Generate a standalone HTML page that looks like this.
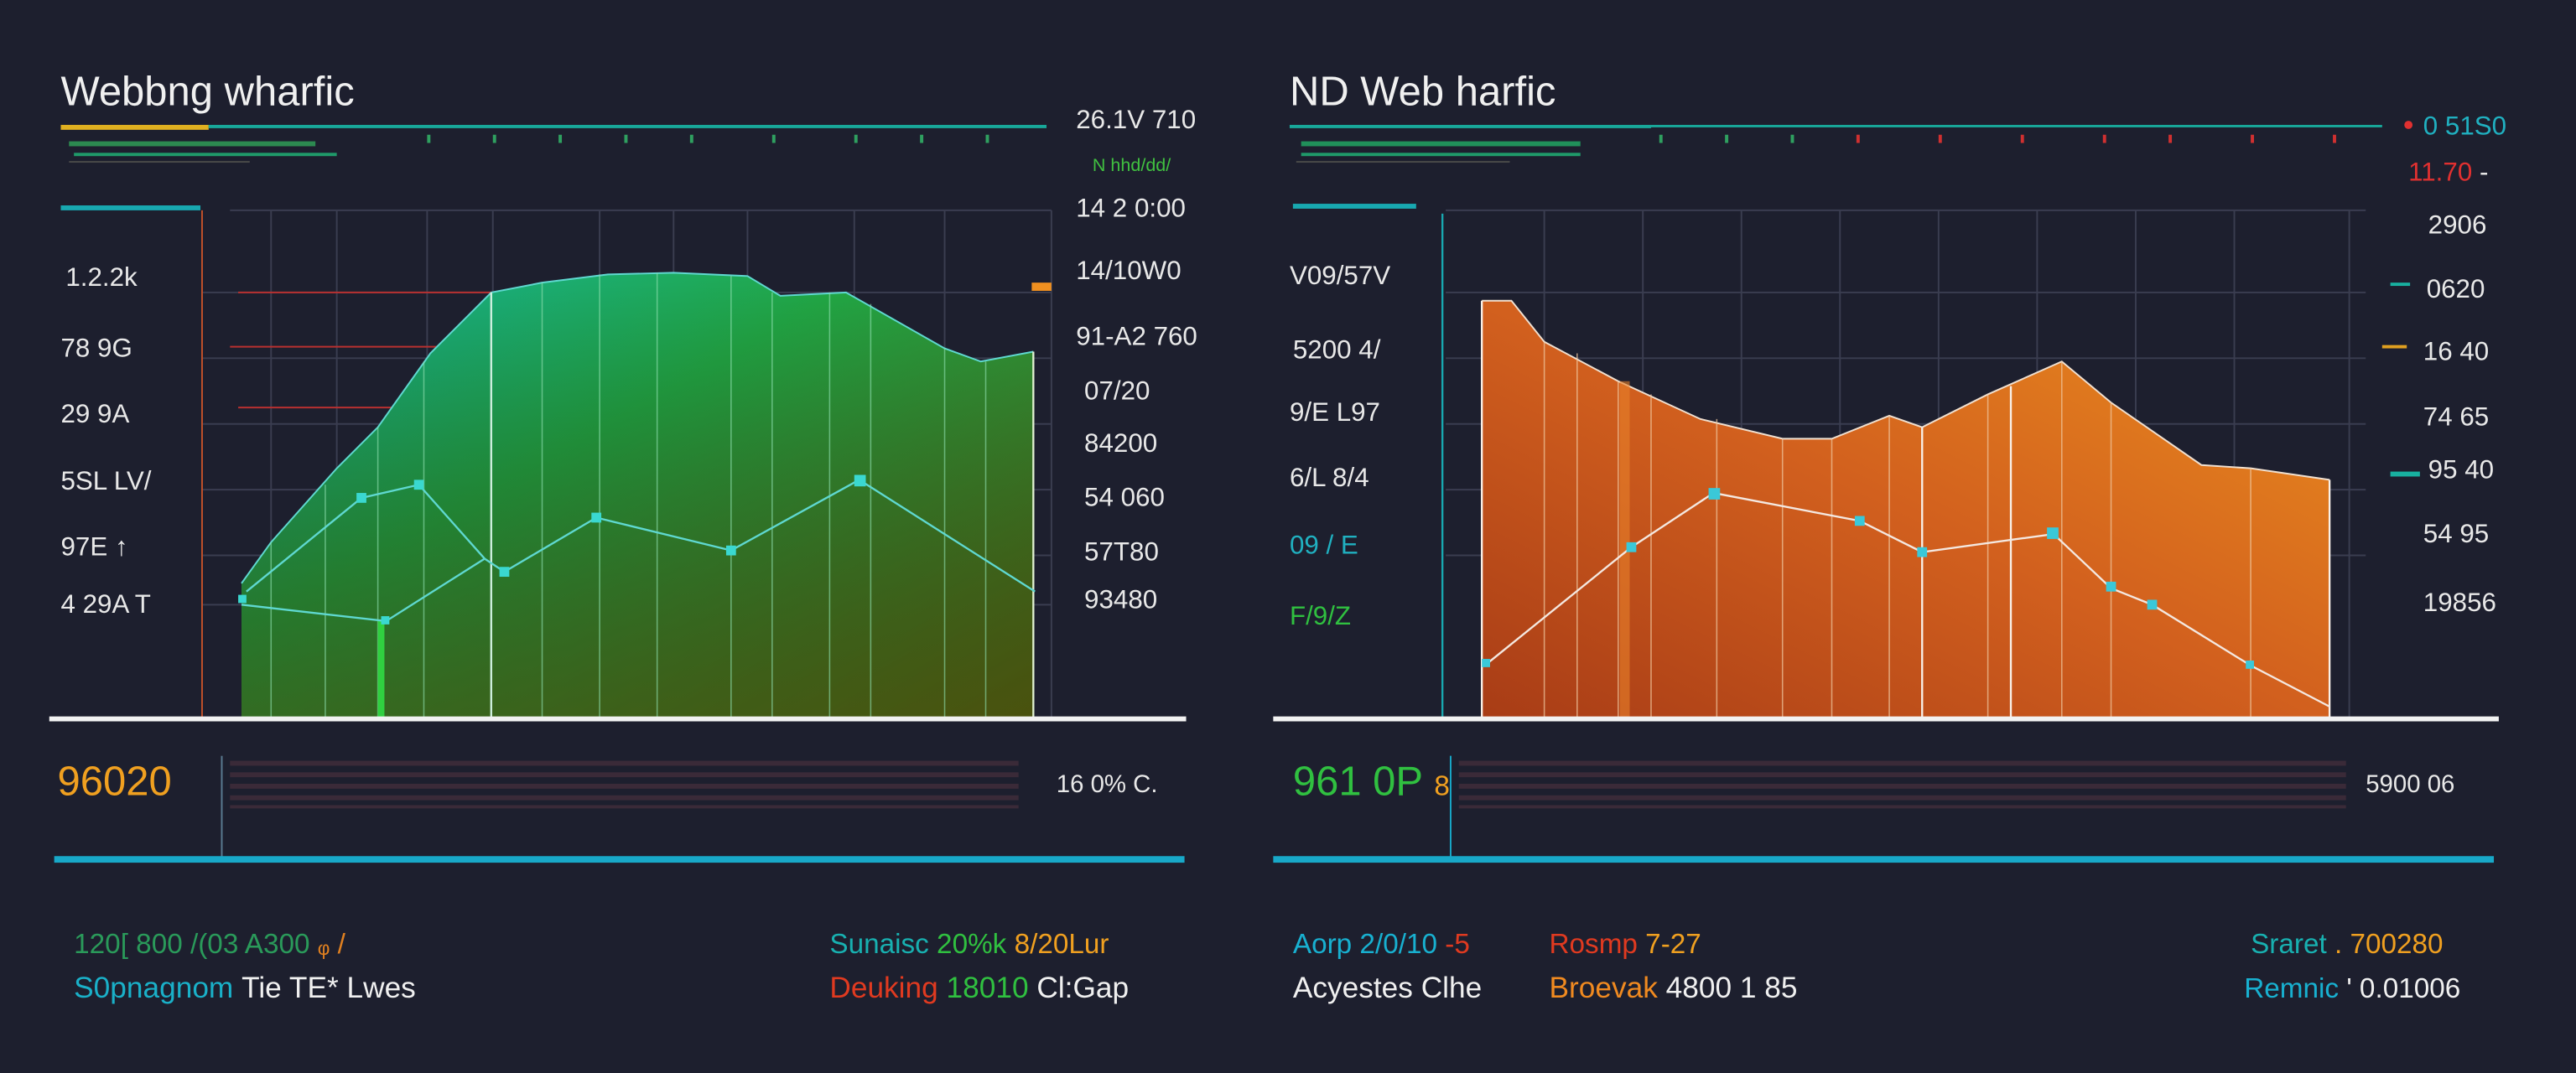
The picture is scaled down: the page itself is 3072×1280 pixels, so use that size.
<!DOCTYPE html>
<html><head><meta charset="utf-8"><style>
html,body{margin:0;padding:0;background:#1d1f2e;}
svg{display:block}
text{font-family:"Liberation Sans",sans-serif;}
</style></head><body>
<svg width="3072" height="1280" viewBox="0 0 1568 653" preserveAspectRatio="none" xmlns="http://www.w3.org/2000/svg">
<defs>
<linearGradient id="gL" x1="0" y1="0" x2="1" y2="1">
<stop offset="0" stop-color="#14b3a0"/><stop offset="0.4" stop-color="#22a845"/><stop offset="1" stop-color="#5a6a14"/>
</linearGradient>
<linearGradient id="gLv" x1="0" y1="0" x2="0" y2="1">
<stop offset="0" stop-color="#000" stop-opacity="0"/><stop offset="1" stop-color="#3a3a08" stop-opacity="0.5"/>
</linearGradient>
<linearGradient id="gR" x1="1" y1="0" x2="0" y2="1">
<stop offset="0" stop-color="#eb8f1e"/><stop offset="0.5" stop-color="#d2601e"/><stop offset="1" stop-color="#a83c16"/>
</linearGradient>
</defs>
<rect width="1568" height="653" fill="#1d1f2e"/>

<!-- LEFT PANEL -->
<text x="37" y="64" font-size="25" fill="#f0f0f0">Webbng wharfic</text>
<rect x="37" y="76" width="90" height="3" fill="#e0b020"/>
<rect x="127" y="76" width="510" height="2" fill="#18a89a"/>
<rect x="42" y="86" width="150" height="3" fill="#2c8a50"/>
<rect x="45" y="93" width="160" height="2" fill="#1f9a6a"/>
<rect x="42" y="98" width="110" height="1" fill="#4a4a4a"/>
<rect x="37" y="125" width="85" height="3" fill="#18a8b0"/>
<g fill="#2fa060"><rect x="260" y="82" width="2" height="5"/><rect x="300" y="82" width="2" height="5"/><rect x="340" y="82" width="2" height="5"/><rect x="380" y="82" width="2" height="5"/><rect x="420" y="82" width="2" height="5"/><rect x="470" y="82" width="2" height="5"/><rect x="520" y="82" width="2" height="5"/><rect x="560" y="82" width="2" height="5"/><rect x="600" y="82" width="2" height="5"/></g>
<g stroke="#3a3d50" stroke-width="1">
<line x1="140" y1="128" x2="640" y2="128"/>
<line x1="123" y1="178" x2="640" y2="178"/>
<line x1="123" y1="218" x2="640" y2="218"/>
<line x1="123" y1="258" x2="640" y2="258"/>
<line x1="123" y1="298" x2="640" y2="298"/>
<line x1="123" y1="338" x2="640" y2="338"/>
<line x1="123" y1="368" x2="640" y2="368"/>
<line x1="165" y1="128" x2="165" y2="437"/><line x1="205" y1="128" x2="205" y2="437"/><line x1="260" y1="128" x2="260" y2="437"/><line x1="300" y1="128" x2="300" y2="437"/><line x1="365" y1="128" x2="365" y2="437"/><line x1="410" y1="128" x2="410" y2="437"/><line x1="455" y1="128" x2="455" y2="437"/><line x1="520" y1="128" x2="520" y2="437"/><line x1="575" y1="128" x2="575" y2="437"/><line x1="640" y1="128" x2="640" y2="437"/>
</g>
<line x1="123" y1="128" x2="123" y2="437" stroke="#c0502a" stroke-width="1"/>
<g stroke="#b83030" stroke-width="1"><line x1="145" y1="178" x2="330" y2="178"/><line x1="140" y1="211" x2="270" y2="211"/><line x1="145" y1="248" x2="250" y2="248"/></g>
<path d="M147,355 L165,330 L205,285 L230,260 L262,215 L299,178 L330,172 L370,167 L410,166 L455,168 L475,180 L515,178 L575,212 L597,220 L629,214 L629,437 L147,437 Z" fill="url(#gL)"/>
<path d="M147,355 L165,330 L205,285 L230,260 L262,215 L299,178 L330,172 L370,167 L410,166 L455,168 L475,180 L515,178 L575,212 L597,220 L629,214 L629,437 L147,437 Z" fill="url(#gLv)"/>
<path d="M147,355 L165,330 L205,285 L230,260 L262,215 L299,178 L330,172 L370,167 L410,166 L455,168 L475,180 L515,178 L575,212 L597,220 L629,214" fill="none" stroke="#5fd8d0" stroke-width="1"/>
<g stroke="#8fe0b0" stroke-width="0.8" opacity="0.6"><line x1="165" y1="330" x2="165" y2="437"/><line x1="198" y1="295" x2="198" y2="437"/><line x1="230" y1="260" x2="230" y2="437"/><line x1="258" y1="220" x2="258" y2="437"/><line x1="330" y1="172" x2="330" y2="437"/><line x1="365" y1="167" x2="365" y2="437"/><line x1="400" y1="166" x2="400" y2="437"/><line x1="445" y1="168" x2="445" y2="437"/><line x1="470" y1="178" x2="470" y2="437"/><line x1="505" y1="178" x2="505" y2="437"/><line x1="530" y1="185" x2="530" y2="437"/><line x1="575" y1="212" x2="575" y2="437"/><line x1="600" y1="220" x2="600" y2="437"/></g>
<line x1="299" y1="178" x2="299" y2="437" stroke="#d0f0e0" stroke-width="1.2"/>
<line x1="629" y1="214" x2="629" y2="437" stroke="#e0f0d0" stroke-width="1.2"/>
<rect x="230" y="378" width="4" height="59" fill="#30d040"/>
<polyline points="150,360 220,303 255,295 295,340 307,348 363,315 445,335 523,292 630,360" fill="none" stroke="#5fd8d0" stroke-width="1.2"/>
<polyline points="147,368 235,378 295,340" fill="none" stroke="#5fd8d0" stroke-width="1.2"/>
<g fill="#3ad8d0"><rect x="217" y="300" width="6" height="6"/><rect x="252" y="292" width="6" height="6"/><rect x="304" y="345" width="6" height="6"/><rect x="360" y="312" width="6" height="6"/><rect x="442" y="332" width="6" height="6"/><rect x="520" y="289" width="7" height="7"/><rect x="145" y="362" width="5" height="5"/><rect x="232" y="375" width="5" height="5"/></g>
<rect x="628" y="172" width="12" height="5" fill="#f09020"/>
<rect x="30" y="436" width="692" height="3" fill="#f2f2f2"/>
<g font-size="16" fill="#e8e8e8">
<text x="655" y="78">26.1V 710</text>
<text x="665" y="104" font-size="11" fill="#40c040">N hhd/dd/</text>
<text x="655" y="132">14 2 0:00</text>
<text x="655" y="170">14/10W0</text>
<text x="655" y="210">91-A2 760</text>
<text x="660" y="243">07/20</text>
<text x="660" y="275">84200</text>
<text x="660" y="308">54 060</text>
<text x="660" y="341">57T80</text>
<text x="660" y="370">93480</text>
<text x="40" y="174">1.2.2k</text>
<text x="37" y="217">78 9G</text>
<text x="37" y="257">29 9A</text>
<text x="37" y="298">5SL LV/</text>
<text x="37" y="338">97E ↑</text>
<text x="37" y="373">4 29A T</text>
</g>
<text x="35" y="484" font-size="25" fill="#f0a020">96020</text>
<g fill="#3a2a38"><rect x="140" y="463" width="480" height="3"/><rect x="140" y="470" width="480" height="3"/><rect x="140" y="477" width="480" height="3"/><rect x="140" y="484" width="480" height="3"/><rect x="140" y="490" width="480" height="2"/></g>
<line x1="135" y1="460" x2="135" y2="523" stroke="#5a7a90" stroke-width="1"/>
<text x="643" y="482" font-size="15" fill="#e8e8e8">16 0% C.</text>
<rect x="33" y="521" width="688" height="4" fill="#18a8c8"/>
<text x="45" y="580" font-size="17" fill="#2a9a5a">120[ 800 /(03 A300 <tspan fill="#e08020">ᵩ /</tspan></text>
<text x="45" y="607" font-size="18" fill="#1ab0c8">S0pnagnom <tspan fill="#f0f0f0">Tie TE* Lwes</tspan></text>
<text x="505" y="580" font-size="17" fill="#18b0b0">Sunaisc <tspan fill="#30c040">20%k</tspan> <tspan fill="#f0a020">8/20Lur</tspan></text>
<text x="505" y="607" font-size="18" fill="#e03a20">Deuking <tspan fill="#30c040">18010</tspan> <tspan fill="#f0f0f0">Cl:Gap</tspan></text>

<!-- RIGHT PANEL -->
<text x="785" y="64" font-size="25" fill="#f0f0f0">ND Web harfic</text>
<rect x="785" y="76" width="220" height="2" fill="#18a89a"/>
<rect x="1005" y="76" width="445" height="1.5" fill="#18a89a"/>
<rect x="792" y="86" width="170" height="3" fill="#20905a"/>
<rect x="792" y="93" width="170" height="2" fill="#1f9a6a"/>
<rect x="789" y="98" width="130" height="1" fill="#4a4a4a"/>
<rect x="787" y="124" width="75" height="3" fill="#18a8b0"/>
<g fill="#2fa060"><rect x="1010" y="82" width="2" height="5"/><rect x="1050" y="82" width="2" height="5"/><rect x="1090" y="82" width="2" height="5"/></g>
<g fill="#d03030"><rect x="1130" y="82" width="2" height="5"/><rect x="1180" y="82" width="2" height="5"/><rect x="1230" y="82" width="2" height="5"/><rect x="1280" y="82" width="2" height="5"/><rect x="1320" y="82" width="2" height="5"/><rect x="1370" y="82" width="2" height="5"/><rect x="1420" y="82" width="2" height="5"/></g>
<g stroke="#3a3d50" stroke-width="1">
<line x1="880" y1="128" x2="1440" y2="128"/>
<line x1="880" y1="178" x2="1440" y2="178"/>
<line x1="880" y1="218" x2="1440" y2="218"/>
<line x1="880" y1="258" x2="1440" y2="258"/>
<line x1="880" y1="298" x2="1440" y2="298"/>
<line x1="880" y1="338" x2="1440" y2="338"/>
<line x1="940" y1="128" x2="940" y2="437"/><line x1="1000" y1="128" x2="1000" y2="437"/><line x1="1060" y1="128" x2="1060" y2="437"/><line x1="1120" y1="128" x2="1120" y2="437"/><line x1="1180" y1="128" x2="1180" y2="437"/><line x1="1240" y1="128" x2="1240" y2="437"/><line x1="1300" y1="128" x2="1300" y2="437"/><line x1="1360" y1="128" x2="1360" y2="437"/><line x1="1430" y1="128" x2="1430" y2="437"/>
</g>
<line x1="878" y1="130" x2="878" y2="437" stroke="#18a8b0" stroke-width="1.2"/>
<path d="M902,183 L920,183 L940,208 L985,232 L1035,255 L1085,267 L1115,267 L1150,253 L1170,260 L1210,240 L1255,220 L1285,245 L1340,283 L1370,285 L1418,292 L1418,437 L902,437 Z" fill="url(#gR)"/>
<path d="M902,183 L920,183 L940,208 L985,232 L1035,255 L1085,267 L1115,267 L1150,253 L1170,260 L1210,240 L1255,220 L1285,245 L1340,283 L1370,285 L1418,292" fill="none" stroke="#f0e0d0" stroke-width="1"/>
<g stroke="#f0c8a0" stroke-width="0.8" opacity="0.7"><line x1="940" y1="208" x2="940" y2="437"/><line x1="960" y1="215" x2="960" y2="437"/><line x1="985" y1="232" x2="985" y2="437"/><line x1="1005" y1="240" x2="1005" y2="437"/><line x1="1045" y1="255" x2="1045" y2="437"/><line x1="1085" y1="267" x2="1085" y2="437"/><line x1="1115" y1="267" x2="1115" y2="437"/><line x1="1150" y1="253" x2="1150" y2="437"/><line x1="1210" y1="240" x2="1210" y2="437"/><line x1="1255" y1="220" x2="1255" y2="437"/><line x1="1285" y1="245" x2="1285" y2="437"/><line x1="1370" y1="285" x2="1370" y2="437"/></g>
<g stroke="#f8f0e8" stroke-width="1.2"><line x1="902" y1="183" x2="902" y2="437"/><line x1="1170" y1="260" x2="1170" y2="437"/><line x1="1224" y1="235" x2="1224" y2="437"/><line x1="1418" y1="292" x2="1418" y2="437"/></g>
<rect x="986" y="232" width="6" height="205" fill="#e8802a" opacity="0.6"/>
<polyline points="905,404 993,333 1043,300 1132,317 1170,336 1250,325 1285,358 1310,368 1370,405 1418,430" fill="none" stroke="#f4e8e0" stroke-width="1.2"/>
<g fill="#3ac8d8"><rect x="990" y="330" width="6" height="6"/><rect x="1040" y="297" width="7" height="7"/><rect x="1129" y="314" width="6" height="6"/><rect x="1167" y="333" width="6" height="6"/><rect x="1246" y="321" width="7" height="7"/><rect x="1282" y="354" width="6" height="6"/><rect x="1307" y="365" width="6" height="6"/><rect x="1367" y="402" width="5" height="5"/><rect x="902" y="401" width="5" height="5"/></g>
<rect x="775" y="436" width="746" height="3" fill="#f2f2f2"/>
<g font-size="16" fill="#e8e8e8">
<text x="1475" y="82" fill="#20b0c0">0 51S0</text>
<circle cx="1466" cy="76" r="2.5" fill="#e03030"/>
<text x="1466" y="110" fill="#e03030">11.70 <tspan fill="#e8e8e8">-</tspan></text>
<text x="1478" y="142">2906</text>
<text x="1477" y="181">0620</text>
<text x="1475" y="219">16 40</text>
<text x="1475" y="259">74 65</text>
<text x="1478" y="291">95 40</text>
<text x="1475" y="330">54 95</text>
<text x="1475" y="372">19856</text>
<text x="785" y="173">V09/57V</text>
<text x="787" y="218">5200 4/</text>
<text x="785" y="256">9/E L97</text>
<text x="785" y="296">6/L 8/4</text>
<text x="785" y="337" fill="#20b0c0">09 / E</text>
<text x="785" y="380" fill="#30c040">F/9/Z</text>
</g>
<g fill="#18b0a0"><rect x="1455" y="172" width="12" height="2"/><rect x="1450" y="210" width="15" height="2" fill="#e0a020"/><rect x="1455" y="287" width="18" height="3"/></g>
<text x="787" y="484" font-size="25" fill="#30c040">961 0P</text>
<text x="873" y="484" font-size="17" fill="#f0a020">8</text>
<g fill="#3a2a38"><rect x="888" y="463" width="540" height="3"/><rect x="888" y="470" width="540" height="3"/><rect x="888" y="477" width="540" height="3"/><rect x="888" y="484" width="540" height="3"/><rect x="888" y="490" width="540" height="2"/></g>
<line x1="883" y1="460" x2="883" y2="523" stroke="#18a8c8" stroke-width="1"/>
<text x="1440" y="482" font-size="15" fill="#e8e8e8">5900 06</text>
<rect x="775" y="521" width="743" height="4" fill="#18a8c8"/>
<text x="787" y="580" font-size="17" fill="#18b0d0">Aorp 2/0/10 <tspan fill="#e03a20">-5</tspan></text>
<text x="943" y="580" font-size="17" fill="#e03a20">Rosmp <tspan fill="#f0a020">7-27</tspan></text>
<text x="787" y="607" font-size="18" fill="#f0f0f0">Acyestes Clhe</text>
<text x="943" y="607" font-size="18" fill="#f08a20">Broevak <tspan fill="#f0f0f0">4800 1 85</tspan></text>
<text x="1370" y="580" font-size="17" fill="#18b0b0">Sraret <tspan fill="#f0a020">. 700280</tspan></text>
<text x="1366" y="607" font-size="17" fill="#18b0d0">Remnic <tspan fill="#f0f0f0">' 0.01006</tspan></text>
</svg>
</body></html>
